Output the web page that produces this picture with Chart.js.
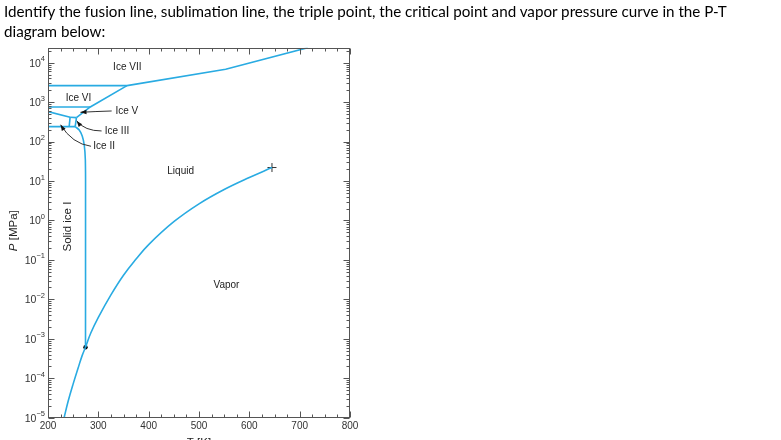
<!DOCTYPE html>
<html>
<head>
<meta charset="utf-8">
<script src="https://cdn.jsdelivr.net/npm/chart.js@4.4.0/dist/chart.umd.min.js"></script>
<style>
  body { margin: 0; background: #fff; }
  #wrap { position: relative; width: 781px; height: 440px; overflow: hidden; }
  #chart { position: absolute; left: 0; top: 0; }
  #title {
    position: absolute; left: 4px; top: 1px;
    font-family: Lato, "Open Sans", sans-serif; font-size: 15.2px; line-height: 20px;
    color: #000; white-space: nowrap;
  }
</style>
</head>
<body>
<div id="wrap">
  <canvas id="chart" width="781" height="440"></canvas>
  <div id="title">Identify the fusion line, sublimation line, the triple point, the critical point and vapor pressure curve in the P-T<br>diagram below:</div>
</div>
<script>
// T in K, P in MPa
const xTicks = [200, 300, 400, 500, 600, 700, 800];
const yDecades = [-5, -4, -3, -2, -1, 0, 1, 2, 3, 4];
const yMax = 24000;

const sublimationT = [232, 240, 250, 260, 268, 274.5];
const sublimationP = [1.0e-5, 2.6e-5, 7.2e-5, 1.85e-4, 3.8e-4, 6.1e-4];

const vapourT = [274.5, 285, 300, 325, 350, 375, 400, 450, 500, 550, 600, 645];
const vapourP = [6.1e-4, 1.4e-3, 3.5e-3, 1.3e-2, 4.1e-2, 0.105, 0.245, 0.93, 2.64, 6.1, 12.3, 22];

const fusionT = [274.5, 274.6, 274.2, 272, 268, 262, 254];
const fusionP = [6.1e-4, 3.3, 34, 82, 139, 197, 239];

// ice / ice and ice / liquid boundaries
const iceOneTopT = [200, 254];       const iceOneTopP = [239, 239];
const iceTwoThreeT = [242, 244];     const iceTwoThreeP = [239, 415];
const iceThreeFiveT = [244, 256.5];  const iceThreeFiveP = [415, 405];
const iceThreeMeltT = [256.5, 254];  const iceThreeMeltP = [405, 239];
const iceTwoFiveT = [200, 244];      const iceTwoFiveP = [575, 415];
const iceFiveSixT = [200, 284];      const iceFiveSixP = [755, 755];
const iceFiveSixMeltT = [256.5, 284, 357]; const iceFiveSixMeltP = [405, 755, 2620];
const iceSixSevenT = [200, 357];     const iceSixSevenP = [2620, 2620];
const iceSevenMeltT = [357, 553, 716]; const iceSevenMeltP = [2620, 6800, 24000];

const triplePoint = [274.5, 6.1e-4];
const criticalPoint = [645, 22];

// region names
const labelText = ['Ice VII', 'Ice VI', 'Ice V', 'Ice III', 'Ice II', 'Liquid', 'Vapor'];
const labelT = [357.5, 260.5, 356.5, 337, 311.5, 463.5, 554.5];
const labelP = [7480, 1250, 597, 186, 74, 17.3, 0.0232];

// arrows: start at the label, bend, tip on the region
const arrowFromT = [326.5, 306.5, 285.5];
const arrowFromP = [597, 186, 76];
const arrowBendT = [295, 273, 248];
const arrowBendP = [580, 186, 88];
const arrowTipT = [264.5, 257, 225];
const arrowTipP = [553, 334, 267];

const blue = '#29abe2';
const font = '"Liberation Sans", Arial, sans-serif';
const zip = (xs, ys) => xs.map((x, i) => ({ x: x, y: ys[i] }));

function curve(xs, ys, tension) {
  return {
    data: zip(xs, ys), showLine: true, borderColor: blue, borderWidth: 1.6,
    pointRadius: 0, tension: tension || 0, fill: false
  };
}

const datasets = [
  curve(sublimationT, sublimationP, 0.4),
  curve(vapourT, vapourP, 0.4),
  curve(fusionT, fusionP, 0.35),
  curve(iceOneTopT, iceOneTopP),
  curve(iceTwoThreeT, iceTwoThreeP),
  curve(iceThreeFiveT, iceThreeFiveP),
  curve(iceThreeMeltT, iceThreeMeltP),
  curve(iceTwoFiveT, iceTwoFiveP),
  curve(iceFiveSixT, iceFiveSixP),
  curve(iceFiveSixMeltT, iceFiveSixMeltP),
  curve(iceSixSevenT, iceSixSevenP),
  curve(iceSevenMeltT, iceSevenMeltP),
  {
    data: [{ x: triplePoint[0], y: triplePoint[1] }],
    pointRadius: 2.2, pointBackgroundColor: '#000', pointBorderWidth: 0
  },
  {
    data: [{ x: criticalPoint[0], y: criticalPoint[1] }],
    pointStyle: 'cross', pointRadius: 4.5, pointBorderColor: '#333', pointBorderWidth: 1
  }
];

function isDecade(v) {
  const e = Math.round(Math.log10(v));
  return Math.abs(v / Math.pow(10, e) - 1) < 1e-6;
}

const decorations = {
  id: 'decorations',
  afterDatasetsDraw(chart) {
    const { ctx, chartArea: a, scales: { x, y } } = chart;
    const L = Math.round(a.left) + 0.5, R = Math.round(a.right) - 0.5;
    const T = Math.round(a.top) + 0.5, B = Math.round(a.bottom) - 0.5;
    ctx.save();

    // frame and inward ticks
    ctx.strokeStyle = '#555';
    ctx.lineWidth = 1;
    ctx.strokeRect(L, T, R - L, B - T);
    ctx.beginPath();
    x.ticks.forEach(t => {
      const px = Math.round(x.getPixelForValue(t.value)) + 0.5;
      const len = t.value % 100 === 0 ? 6 : 3;
      ctx.moveTo(px, B); ctx.lineTo(px, B - len);
      ctx.moveTo(px, T); ctx.lineTo(px, T + len);
    });
    y.ticks.forEach(t => {
      const py = Math.round(y.getPixelForValue(t.value)) + 0.5;
      const len = isDecade(t.value) ? 6 : 3;
      ctx.moveTo(L, py); ctx.lineTo(L + len, py);
      ctx.moveTo(R, py); ctx.lineTo(R - len, py);
    });
    ctx.stroke();

    // decade labels 10^n with a raised exponent
    ctx.fillStyle = '#333';
    ctx.textAlign = 'left';
    ctx.textBaseline = 'middle';
    y.ticks.filter(t => isDecade(t.value)).forEach(t => {
      const py = y.getPixelForValue(t.value);
      const e = Math.round(Math.log10(t.value));
      const exp = e < 0 ? '\u2212' + (-e) : String(e);
      ctx.font = '7.5px ' + font;
      const we = ctx.measureText(exp).width;
      ctx.font = '10.5px ' + font;
      const wb = ctx.measureText('10').width;
      const right = a.left - 3;
      ctx.fillText('10', right - we - wb, py + 1);
      ctx.font = '7.5px ' + font;
      ctx.fillText(exp, right - we, py - 3.5);
    });

    // region names
    ctx.fillStyle = '#222';
    ctx.font = '10px ' + font;
    ctx.textAlign = 'center';
    ctx.textBaseline = 'middle';
    labelText.forEach((s, i) => {
      ctx.fillText(s, x.getPixelForValue(labelT[i]), y.getPixelForValue(labelP[i]));
    });

    // arrows
    ctx.strokeStyle = '#333';
    ctx.lineWidth = 1;
    arrowTipT.forEach((tT, i) => {
      const x0 = x.getPixelForValue(arrowFromT[i]), y0 = y.getPixelForValue(arrowFromP[i]);
      const cx = x.getPixelForValue(arrowBendT[i]), cy = y.getPixelForValue(arrowBendP[i]);
      const x1 = x.getPixelForValue(tT), y1 = y.getPixelForValue(arrowTipP[i]);
      ctx.beginPath();
      ctx.moveTo(x0, y0);
      ctx.quadraticCurveTo(cx, cy, x1, y1);
      ctx.stroke();
      const ang = Math.atan2(y1 - cy, x1 - cx);
      ctx.beginPath();
      ctx.moveTo(x1, y1);
      ctx.lineTo(x1 - 6 * Math.cos(ang) + 2.2 * Math.sin(ang), y1 - 6 * Math.sin(ang) - 2.2 * Math.cos(ang));
      ctx.lineTo(x1 - 6 * Math.cos(ang) - 2.2 * Math.sin(ang), y1 - 6 * Math.sin(ang) + 2.2 * Math.cos(ang));
      ctx.closePath();
      ctx.fillStyle = '#111';
      ctx.fill();
    });

    // rotated texts
    ctx.fillStyle = '#222';
    ctx.save();
    ctx.translate(x.getPixelForValue(239), y.getPixelForValue(0.7));
    ctx.rotate(-Math.PI / 2);
    ctx.font = '11.5px ' + font;
    ctx.fillText('Solid ice I', 0, 0);
    ctx.restore();

    ctx.save();
    ctx.translate(14, (a.top + a.bottom) / 2 - 2);
    ctx.rotate(-Math.PI / 2);
    ctx.textAlign = 'left';
    ctx.font = 'italic 11.5px ' + font;
    const wP = ctx.measureText('P').width;
    ctx.font = '11.5px ' + font;
    const wRest = ctx.measureText(' [MPa]').width;
    const start = -(wP + wRest) / 2;
    ctx.font = 'italic 11.5px ' + font;
    ctx.fillText('P', start, 0);
    ctx.font = '11.5px ' + font;
    ctx.fillText(' [MPa]', start + wP, 0);
    ctx.restore();

    // x title, mostly below the window edge
    ctx.textBaseline = 'top';
    ctx.font = '11.5px ' + font;
    ctx.fillText('T [K]', x.getPixelForValue(500), 437.5);

    ctx.restore();
  }
};

new Chart(document.getElementById('chart'), {
  type: 'scatter',
  data: { datasets: datasets },
  options: {
    responsive: false,
    animation: false,
    layout: { padding: { top: 47.7, right: 431, bottom: 0, left: 0 } },
    plugins: { legend: { display: false }, tooltip: { enabled: false } },
    scales: {
      x: {
        type: 'linear', min: xTicks[0], max: xTicks[xTicks.length - 1],
        grid: { display: false, drawTicks: false }, border: { display: false },
        afterBuildTicks: s => {
          const t = [];
          for (let v = xTicks[0]; v <= xTicks[xTicks.length - 1]; v += 25) t.push({ value: v });
          s.ticks = t;
        },
        afterFit: s => { s.height = 22.3; },
        ticks: {
          autoSkip: false, maxRotation: 0, padding: 3, color: '#333',
          font: { family: font, size: 10 },
          callback: v => xTicks.includes(v) ? String(v) : ''
        }
      },
      y: {
        type: 'logarithmic', min: Math.pow(10, yDecades[0]), max: yMax,
        grid: { display: false, drawTicks: false }, border: { display: false },
        afterBuildTicks: s => {
          const t = [];
          yDecades.forEach(e => {
            for (let m = 1; m <= 9; m++) {
              const v = m * Math.pow(10, e);
              if (v <= yMax) t.push({ value: v });
            }
          });
          s.ticks = t;
        },
        afterFit: s => { s.width = 48; },
        ticks: { display: false }
      }
    }
  },
  plugins: [decorations]
});
</script>
</body>
</html>
